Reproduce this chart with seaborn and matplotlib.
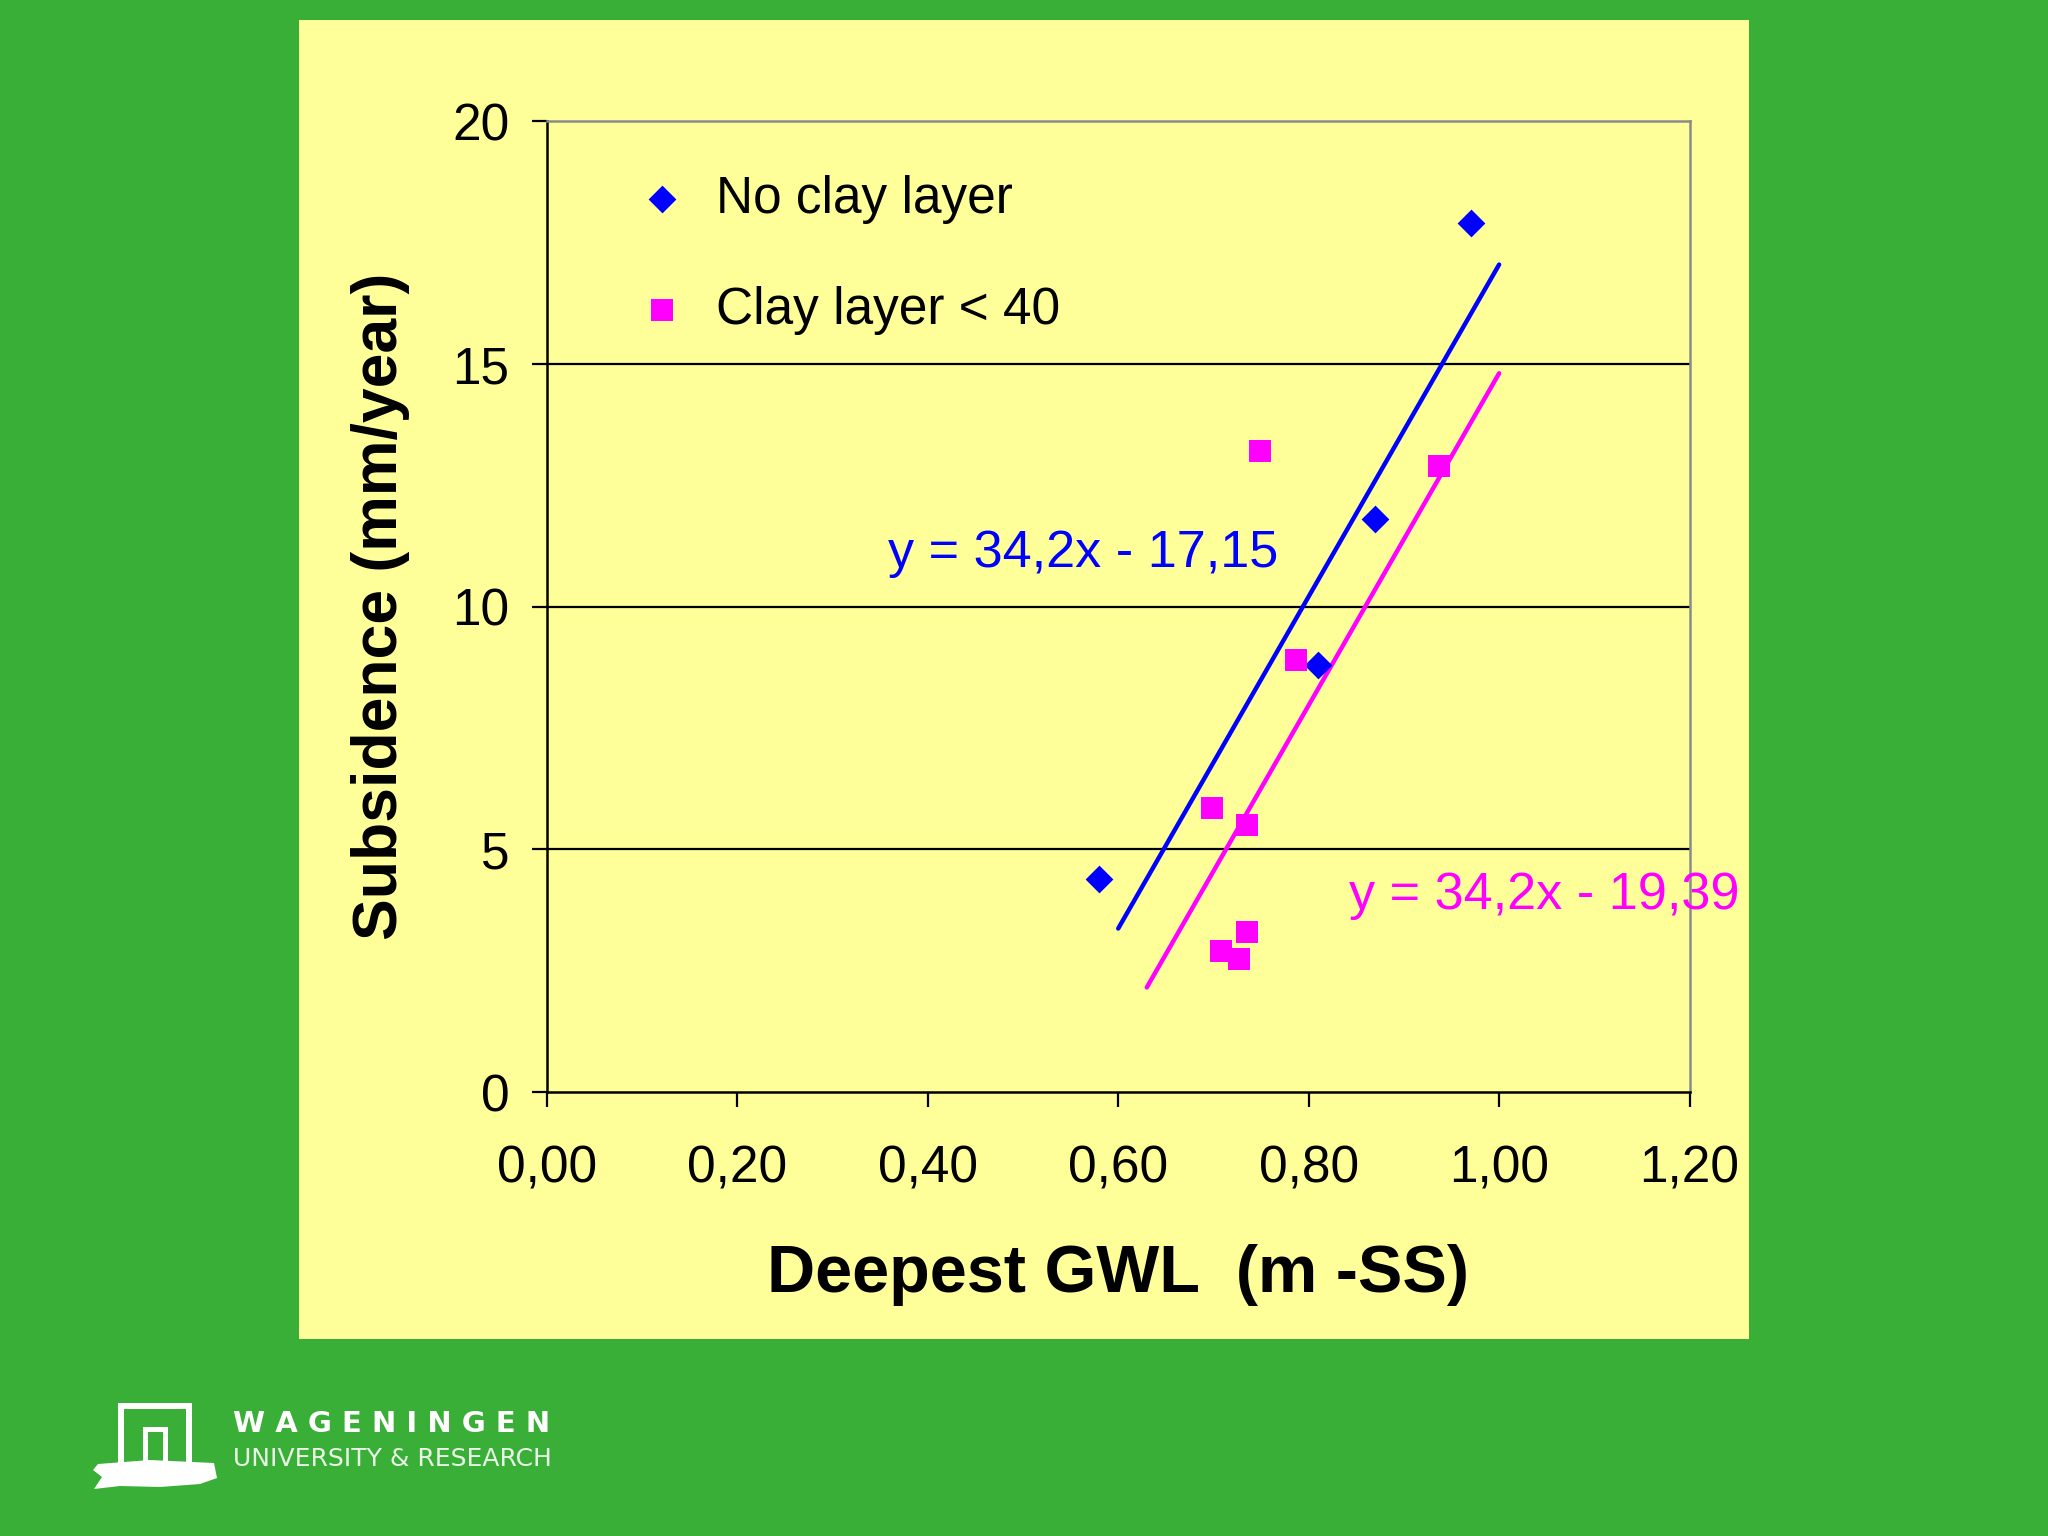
import numpy as np
import pandas as pd
import matplotlib.pyplot as plt
from matplotlib.patches import Rectangle, Polygon
import seaborn as sns

# --- data ---
no_clay_x = [0.58, 0.81, 0.87, 0.97]
no_clay_y = [4.4, 8.8, 11.8, 17.9]
clay_x = [0.749, 0.787, 0.937, 0.698, 0.735, 0.735, 0.708, 0.727]
clay_y = [13.2, 8.9, 12.9, 5.85, 5.5, 3.3, 2.9, 2.75]

series_names = ["No clay layer", "Clay layer < 40"]
slopes = [34.2, 34.2]
intercepts = [-17.15, -19.39]
fit_x_range = [(0.60, 1.00), (0.63, 1.00)]
equations = ["y = 34,2x - 17,15", "y = 34,2x - 19,39"]

x_ticks = [0.0, 0.2, 0.4, 0.6, 0.8, 1.0, 1.2]
y_ticks = [0, 5, 10, 15, 20]

GREEN = "#3AAF37"
YELLOW = "#FFFF99"
BLUE = "#0000FF"
MAGENTA = "#FF00FF"
colors = [BLUE, MAGENTA]

sns.set_theme(style="white")
plt.rcParams["font.family"] = ["Liberation Sans", "DejaVu Sans"]
plt.rcParams["text.color"] = "black"
plt.rcParams["axes.labelcolor"] = "black"
plt.rcParams["xtick.color"] = "black"
plt.rcParams["ytick.color"] = "black"

df = pd.DataFrame({
    "x": no_clay_x + clay_x,
    "y": no_clay_y + clay_y,
    "group": [series_names[0]] * len(no_clay_x) + [series_names[1]] * len(clay_x),
})

fig = plt.figure(figsize=(20.48, 15.36), dpi=100)
fig.patch.set_facecolor(GREEN)

# yellow slide panel (behind the axes)
fig.patches.append(Rectangle((0.146, 0.128), 0.708, 0.859, transform=fig.transFigure,
                             facecolor=YELLOW, edgecolor="none", zorder=-10))

ax = fig.add_axes([0.267, 0.289, 0.558, 0.632])
ax.set_zorder(1)
ax.set_facecolor(YELLOW)

markers = ["D", "s"]
sizes = [200, 270]

for name, col, mk, sz in zip(series_names, colors, markers, sizes):
    sub = df[df["group"] == name]
    sns.scatterplot(data=sub, x="x", y="y", ax=ax, color=col, marker=mk,
                    s=sz, linewidth=0, label=name, zorder=4)

# linear trend lines
for m, b, (x0, x1), col in zip(slopes, intercepts, fit_x_range, colors):
    xs = np.array([x0, x1])
    sns.lineplot(x=xs, y=m * xs + b, ax=ax, color=col, linewidth=3.2, zorder=3)

ax.text(0.358, 11.1, equations[0], color=BLUE, fontsize=37.5, va="center", ha="left")
ax.text(0.842, 4.05, equations[1], color=MAGENTA, fontsize=37.5, va="center", ha="left",
        clip_on=False, zorder=5)

ax.set_xlim(0, 1.2)
ax.set_ylim(0, 20)
ax.set_xticks(x_ticks)
ax.set_xticklabels([f"{t:.2f}".replace(".", ",") for t in x_ticks])
ax.set_yticks(y_ticks)
ax.set_yticklabels([str(t) for t in y_ticks])

for y in y_ticks[1:-1]:
    ax.axhline(y, color="black", linewidth=1.6, zorder=1)

ax.spines["left"].set_color("black")
ax.spines["bottom"].set_color("black")
ax.spines["top"].set_color("#8a8a8a")
ax.spines["right"].set_color("#8a8a8a")
for s in ax.spines.values():
    s.set_linewidth(1.8)

ax.tick_params(axis="x", direction="out", length=11, width=1.6, colors="black",
               labelsize=37, pad=27, bottom=True)
ax.tick_params(axis="y", direction="out", length=11, width=1.6, colors="black",
               labelsize=37, pad=16, left=True)

ax.set_xlabel("Deepest GWL  (m -SS)", fontsize=48, fontweight="bold", labelpad=36,
              color="black")
ax.set_ylabel("Subsidence (mm/year)", fontsize=45, fontweight="bold", labelpad=30,
              color="black")

leg = ax.legend(loc="upper left", bbox_to_anchor=(0.06, 0.966), frameon=False,
                fontsize=37, handlelength=1.0, handletextpad=0.55, labelspacing=1.2,
                borderaxespad=0, markerscale=1.0)

# Wageningen logo (white, bottom left)
logo_kw = dict(transform=fig.transFigure, facecolor="white", edgecolor="none")
W, H = 2048, 1536


def fx(px):
    return px / W


def fy(py):
    return 1 - py / H


# outer gate
fig.patches.append(Polygon([(fx(118), fy(1468)), (fx(118), fy(1403)), (fx(192), fy(1403)),
                            (fx(192), fy(1468)), (fx(186), fy(1468)), (fx(186), fy(1409)),
                            (fx(124), fy(1409)), (fx(124), fy(1468))], **logo_kw))
# inner door
fig.patches.append(Polygon([(fx(143), fy(1462)), (fx(143), fy(1427)), (fx(168), fy(1427)),
                            (fx(168), fy(1462)), (fx(163), fy(1462)), (fx(163), fy(1432)),
                            (fx(148), fy(1432)), (fx(148), fy(1462))], **logo_kw))
# brush stroke
fig.patches.append(Polygon([(fx(98), fy(1464)), (fx(150), fy(1460)), (fx(214), fy(1463)),
                            (fx(217), fy(1478)), (fx(200), fy(1484)), (fx(160), fy(1487)),
                            (fx(120), fy(1486)), (fx(94), fy(1489)), (fx(102), fy(1477)),
                            (fx(93), fy(1470))], **logo_kw))

fig.text(fx(233), fy(1424), "W A G E N I N G E N", color="white", fontsize=21,
         fontweight="bold", va="center", ha="left", family=["DejaVu Sans"])
fig.text(fx(233), fy(1459), "UNIVERSITY & RESEARCH", color="#e8f5e6", fontsize=18,
         va="center", ha="left", family=["DejaVu Sans"])

fig.savefig("out.png", dpi=100, facecolor=GREEN)
